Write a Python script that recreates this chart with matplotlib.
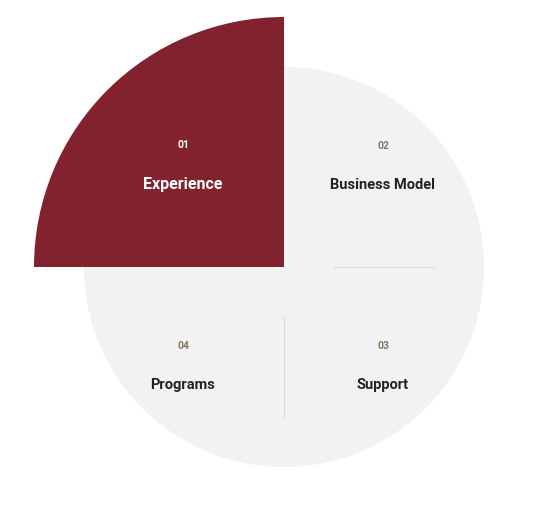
import matplotlib
matplotlib.use("Agg")
import matplotlib.pyplot as plt
from matplotlib.patches import Wedge

numbers = ["01", "02", "03", "04"]
names = ["Experience", "Business Model", "Support", "Programs"]
active = [True, False, False, False]
# quadrant angle ranges (degrees, counterclockwise, y up)
theta = [(90, 180), (0, 90), (270, 360), (180, 270)]
label_pos = [(183, 145, 185), (383, 146, 185), (383, 346, 385), (183, 346, 385)]

W, H = 542, 508
fig = plt.figure(figsize=(W/100, H/100), dpi=100)
ax = fig.add_axes([0, 0, 1, 1])
ax.set_xlim(0, W); ax.set_ylim(H, 0); ax.axis("off")
cx, cy = 284, 267

for i in range(4):
    t1, t2 = theta[i]
    r = 250 if active[i] else 200
    col = "#82222f" if active[i] else "#f2f2f2"
    # y axis inverted: flip angles
    ax.add_patch(Wedge((cx, cy), r, -t2, -t1, facecolor=col, edgecolor="none"))

ax.plot([cx, cx], [317, 417], color="#d8d8d8", lw=0.8)
ax.plot([334, 434], [cy, cy], color="#d8d8d8", lw=0.8)

for i in range(4):
    x, yn, yt = label_pos[i]
    nc = "white" if active[i] else "#8a7460"
    tc = "white" if active[i] else "#222222"
    ax.text(x, yn, numbers[i], ha="center", va="center", color=nc,
            fontsize=7.5, fontweight="bold", family="Roboto")
    ax.text(x, yt, names[i], ha="center", va="center", color=tc,
            fontsize=10.5 if not active[i] else 11.5, fontweight="bold", family="Roboto")

fig.savefig("out.png", dpi=100, facecolor="white")
